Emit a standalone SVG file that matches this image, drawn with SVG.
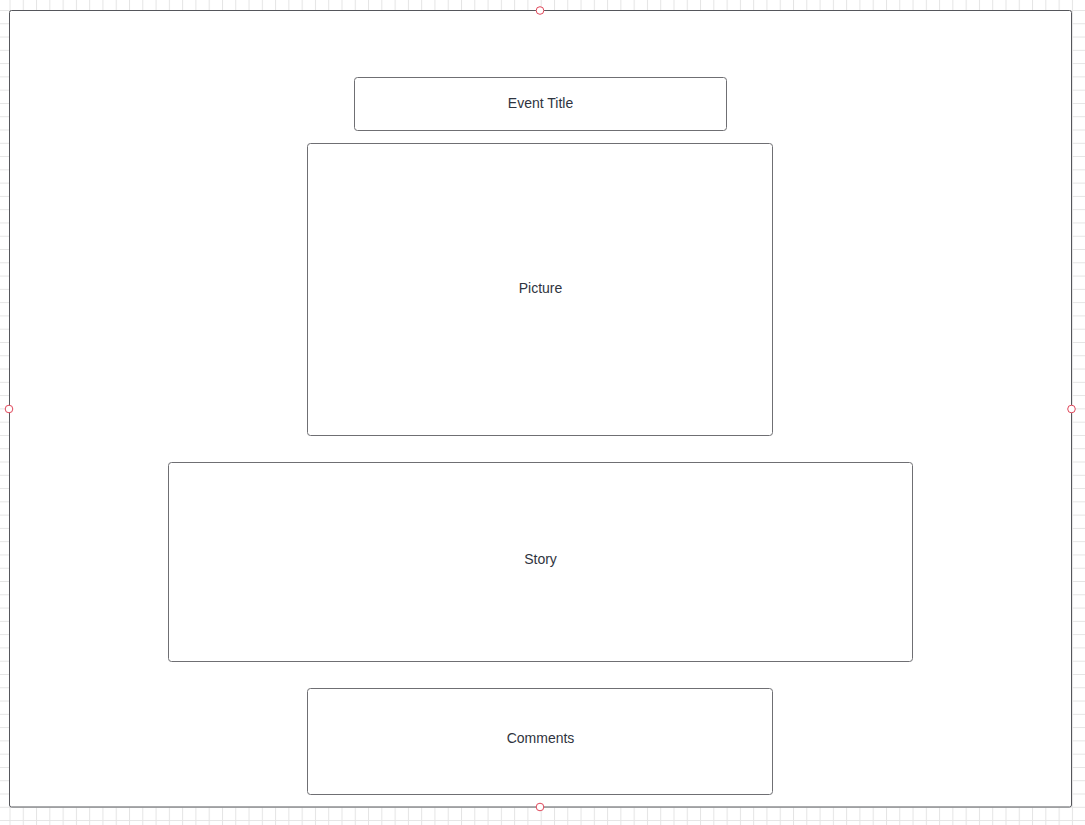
<svg xmlns="http://www.w3.org/2000/svg" width="1085" height="825" viewBox="0 0 1085 825">
  <defs>
    <pattern id="grid" patternUnits="userSpaceOnUse" x="9.5" y="10" width="13.28" height="13.28">
      <path d="M0.5 0 V13.28 M0 0.5 H13.28" fill="none" stroke="#e4e4e4" stroke-width="1"/>
    </pattern>
    <style>
      .node { fill: #ffffff; stroke: #6f6f73; stroke-width: 1; }
      .label { font-family: "Liberation Sans", Arial, sans-serif; font-size: 14px; fill: #2f3440; text-anchor: middle; }
      .handle { fill: #ffffff; stroke: #e0475a; stroke-width: 1; }
    </style>
  </defs>
  <rect x="0" y="0" width="1085" height="825" fill="#ffffff"/>
  <rect x="0" y="0" width="1085" height="825" fill="url(#grid)"/>
  <g id="frame">
    <rect x="9.5" y="10.5" width="1062" height="796.5" rx="2" fill="#ffffff" stroke="#55565b" stroke-width="1"/>
  </g>
  <g id="connectors"></g>
  <g id="event-title">
    <rect class="node" x="354.5" y="77.5" width="372" height="53" rx="3"/>
    <text class="label" x="540.5" y="108">Event Title</text>
  </g>
  <g id="picture">
    <rect class="node" x="307.5" y="143.5" width="465" height="292" rx="3"/>
    <text class="label" x="540.5" y="293">Picture</text>
  </g>
  <g id="story">
    <rect class="node" x="168.5" y="462.5" width="744" height="199" rx="3"/>
    <text class="label" x="540.5" y="564">Story</text>
  </g>
  <g id="comments">
    <rect class="node" x="307.5" y="688.5" width="465" height="106" rx="3"/>
    <text class="label" x="540.5" y="743">Comments</text>
  </g>
  <g id="handles">
    <circle class="handle" cx="540" cy="10.5" r="3.8"/>
    <circle class="handle" cx="9" cy="409" r="3.8"/>
    <circle class="handle" cx="1071.5" cy="409" r="3.8"/>
    <circle class="handle" cx="540" cy="807" r="3.8"/>
  </g>
</svg>
